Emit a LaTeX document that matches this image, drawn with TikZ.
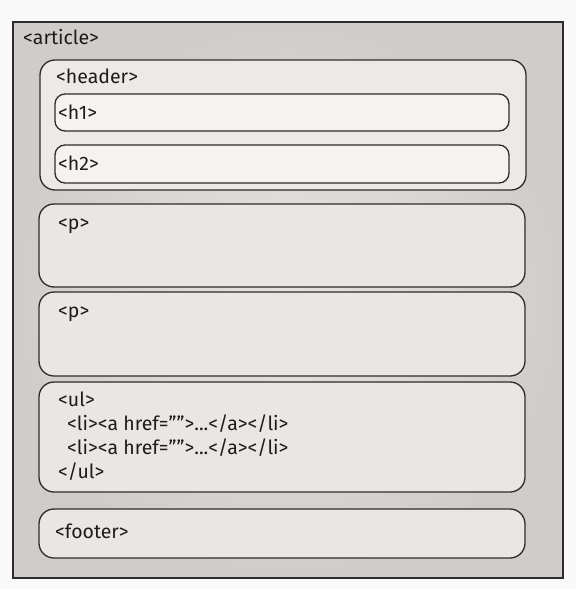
\documentclass[tikz,border=0pt]{standalone}
\usepackage{fontspec}
\setmainfont{Fira Sans}
\definecolor{bgc}{HTML}{F9F9F9}
\definecolor{artin}{HTML}{E6E4E2}
\definecolor{artout}{HTML}{D0CCC9}
\definecolor{boxfill}{HTML}{E9E7E5}
\definecolor{hdrfill}{HTML}{ECEAE8}
\definecolor{hfill}{HTML}{F4F3F2}
\definecolor{linec}{HTML}{2E2B2A}
\definecolor{txtc}{HTML}{1E1C1B}
\begin{document}
\begin{tikzpicture}[x=1pt,y=-1pt,
  frame/.style={draw=linec,line width=1.3pt},
  blockbox/.style={frame,fill=boxfill,rounded corners=15pt},
  hbox/.style={frame,fill=hfill,rounded corners=10pt},
  tag/.style={anchor=base west,inner sep=0pt,text=txtc,font=\fontsize{19.5}{22}\selectfont}]
\fill[bgc] (0,0) rectangle (576,589);
\useasboundingbox (0,0) rectangle (576,589);
% article
\shade[inner color=artin,outer color=artout] (13,22) rectangle (563,578);
\draw[frame] (13,22) rectangle (563,578);
\node[tag] (article) at (23,44) {<article>};
% header
\draw[blockbox,fill=hdrfill] (40,60) rectangle (526,190);
\node[tag] (header) at (56,83) {<header>};
\draw[hbox] (55,94) rectangle (509,131);
\node[tag] (h1) at (58,119) {<h1>};
\draw[hbox] (55,145) rectangle (509,183);
\node[tag] (h2) at (58,170) {<h2>};
% paragraphs
\draw[blockbox] (39,204) rectangle (525,287);
\node[tag] (p1) at (58,229) {<p>};
\draw[blockbox] (39,292) rectangle (525,376);
\node[tag] (p2) at (58,317) {<p>};
% list
\draw[blockbox] (39,382) rectangle (525,492);
\node[tag] (ul) at (58,406) {<ul>};
\node[tag] (li1) at (67,430) {<li><a href=””>...</a></li>};
\node[tag] (li2) at (67,454) {<li><a href=””>...</a></li>};
\node[tag] (ulend) at (58,478) {</ul>};
% footer
\draw[blockbox] (39,509) rectangle (525,558);
\node[tag] (footer) at (55,538) {<footer>};
\end{tikzpicture}
\end{document}
